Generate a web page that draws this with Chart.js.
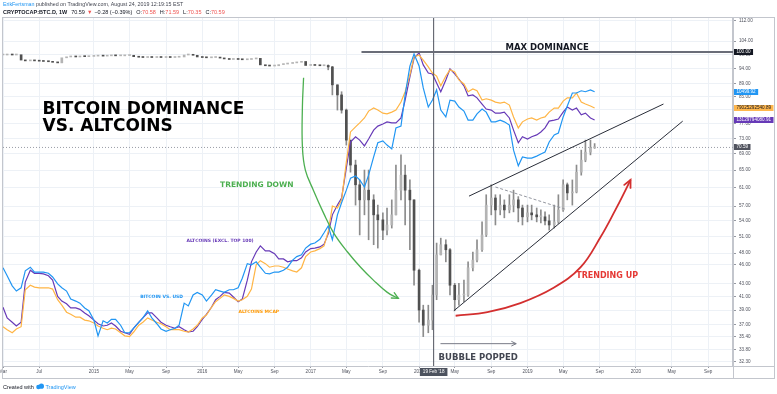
<!DOCTYPE html>
<html><head><meta charset="utf-8">
<script src="https://cdn.jsdelivr.net/npm/chart.js@4/dist/chart.umd.min.js"></script>
<style>html,body{margin:0;padding:0;background:#fff;overflow:hidden}</style>
</head><body>
<canvas id="c" width="777" height="394"></canvas>
<script>
// ---------- data (half-monthly samples) ----------
const dates = [
'2014-03-01','2014-03-15','2014-04-01','2014-04-15','2014-05-01','2014-05-15','2014-06-01','2014-06-15','2014-07-01','2014-07-15','2014-08-01','2014-08-15','2014-09-01','2014-09-15','2014-10-01','2014-10-15','2014-11-01','2014-11-15','2014-12-01','2014-12-15',
'2015-01-01','2015-01-15','2015-02-01','2015-02-15','2015-03-01','2015-03-15','2015-04-01','2015-04-15','2015-05-01','2015-05-15','2015-06-01','2015-06-15','2015-07-01','2015-07-15','2015-08-01','2015-08-15','2015-09-01','2015-09-15','2015-10-01','2015-10-15','2015-11-01','2015-11-15','2015-12-01','2015-12-15',
'2016-01-01','2016-01-15','2016-02-01','2016-02-15','2016-03-01','2016-03-15','2016-04-01','2016-04-15','2016-05-01','2016-05-15','2016-06-01','2016-06-15','2016-07-01','2016-07-15','2016-08-01','2016-08-15','2016-09-01','2016-09-15','2016-10-01','2016-10-15','2016-11-01','2016-11-15','2016-12-01','2016-12-15',
'2017-01-01','2017-01-15','2017-02-01','2017-02-15','2017-03-01','2017-03-15','2017-04-01','2017-04-15','2017-05-01','2017-05-15','2017-06-01','2017-06-15','2017-07-01','2017-07-15','2017-08-01','2017-08-15','2017-09-01','2017-09-15','2017-10-01','2017-10-15','2017-11-01','2017-11-15','2017-12-01','2017-12-15',
'2018-01-01','2018-01-15','2018-02-01','2018-02-15','2018-03-01','2018-03-15','2018-04-01','2018-04-15','2018-05-01','2018-05-15','2018-06-01','2018-06-15','2018-07-01','2018-07-15','2018-08-01','2018-08-15','2018-09-01','2018-09-15','2018-10-01','2018-10-15','2018-11-01','2018-11-15','2018-12-01','2018-12-15',
'2019-01-01','2019-01-15','2019-02-01','2019-02-15','2019-03-01','2019-03-15','2019-04-01','2019-04-15','2019-05-01','2019-05-15','2019-06-01','2019-06-15','2019-07-01','2019-07-15','2019-08-01','2019-08-15'
];
// Bitcoin dominance (CRYPTOCAP:BTC.D) closes
const domClose = [
98.9,99.0,98.9,99.0,97.1,96.8,96.9,96.8,96.7,96.6,
96.5,96.3,96.1,97.9,98.2,98.3,98.2,98.4,98.3,98.4,
98.5,98.6,98.5,98.6,98.7,98.6,98.6,98.7,98.8,98.3,
98.1,98.0,98.1,98.0,98.1,98.0,98.1,98.0,98.1,98.2,
98.9,99.0,98.8,98.2,98.0,97.9,98.0,98.1,97.8,97.5,
97.3,97.4,97.3,97.2,97.3,97.5,97.7,95.4,95.1,95.0,
95.1,95.5,95.7,95.9,96.1,96.3,96.6,95.2,95.3,95.2,
95.1,95.2,94.7,88.7,85.5,80.9,72.5,66.2,61.6,58.3,
60.4,58.3,55.2,54.2,52.2,53.2,55.2,60.4,63.8,60.4,
58.3,45.1,39.0,36.9,37.6,41.2,47.7,49.5,48.6,42.7,
40.5,41.2,41.2,45.5,46.8,48.6,51.3,57.2,58.7,56.2,
57.2,56.2,57.2,58.3,56.6,54.8,55.6,55.2,54.8,54.8,
54.0,53.2,53.8,56.2,61.6,59.8,60.0,64.5,67.4,69.4,
70.5,70.59];
// highs / lows from the 2017 break-down onwards (from dates[wickFrom])
const wickFrom = '2017-03-01';
const domHigh = [
95.4,94.9,88.7,86.5,81.2,72.5,67.4,62.7,
65.0,65.0,59.4,57.2,55.6,56.6,58.3,66.2,68.7,66.2,
62.7,58.3,45.3,39.7,39.7,42.7,49.8,50.7,50.4,48.8,
43.0,43.0,43.5,46.5,48.2,50.4,53.8,59.4,61.6,59.4,
59.4,58.3,59.4,60.4,59.0,57.2,57.2,57.2,56.6,56.2,
55.8,55.2,57.2,59.4,62.7,62.0,62.7,66.2,69.9,72.5,
72.5,71.59];
const domLow = [
93.7,85.5,80.9,80.0,71.2,64.5,57.2,51.3,
55.2,50.4,49.5,48.9,50.4,51.3,52.6,55.2,58.3,53.2,
48.6,42.7,37.3,35.4,35.9,36.3,40.5,47.7,46.5,41.2,
38.9,39.7,40.2,41.0,45.0,46.5,48.3,51.0,55.2,53.2,
55.2,54.6,55.6,55.8,53.8,53.2,53.8,54.2,53.8,53.6,
53.2,52.2,52.6,53.5,55.9,58.3,57.2,59.8,63.8,67.0,
68.7,70.35];
// comparison overlays (shown on the same price scale)
const btcUsd = [
45.5,44.2,42.6,41.8,42.3,45.0,45.6,44.8,44.8,44.8,
44.6,44.0,42.9,42.3,41.8,40.6,40.3,40.0,39.3,38.9,
37.6,35.5,37.5,37.2,37.7,37.7,36.9,35.9,35.9,36.5,
37.3,37.9,38.9,37.9,37.1,36.4,36.1,36.3,36.5,36.9,
40.0,39.6,41.2,41.6,41.2,40.3,41.2,42.0,41.8,41.6,
42.0,42.0,42.3,43.8,46.2,46.0,46.5,45.6,44.6,44.5,
44.8,44.8,45.1,45.6,46.8,47.4,47.7,48.9,49.6,49.8,
50.5,51.7,53.0,50.4,55.2,57.7,60.4,63.1,63.6,62.7,
61.1,63.8,68.2,71.8,72.3,71.2,70.2,75.8,76.3,85.5,
95.0,99.3,95.0,87.7,81.8,83.9,87.1,80.9,78.9,83.9,
83.6,81.8,80.6,78.0,78.0,79.8,81.2,80.3,77.5,77.5,
78.0,77.5,76.6,69.9,66.0,68.2,67.9,67.9,68.4,68.9,
69.4,72.0,73.9,74.4,78.9,82.1,86.1,86.1,86.8,86.5,
87.1,86.5];
const altMcap = [
36.7,36.3,35.9,36.4,36.7,42.0,42.7,42.4,42.3,42.3,
42.3,42.1,40.5,39.7,38.7,38.4,38.0,38.0,37.6,37.5,
37.2,36.8,36.5,36.3,36.5,36.4,35.9,35.5,35.4,36.0,
36.9,37.3,37.9,37.6,37.3,37.1,36.7,36.3,36.3,36.3,
36.1,36.0,36.4,36.9,37.9,38.3,39.4,40.2,40.7,41.2,
41.0,40.7,40.3,40.5,41.0,42.1,46.0,46.7,46.2,45.6,
45.8,45.8,45.6,45.3,45.0,44.8,45.5,47.4,48.2,48.4,
48.8,49.3,51.9,57.0,56.6,58.3,66.9,74.7,76.1,77.2,
78.6,80.6,81.5,80.9,80.0,79.8,80.3,80.9,83.3,86.5,
92.0,98.2,98.9,97.1,94.7,92.6,91.6,88.4,91.6,93.7,
93.0,90.3,89.0,86.5,87.4,86.8,83.9,84.3,83.9,83.3,
83.0,83.3,82.4,78.9,75.8,77.5,78.3,78.6,78.0,78.6,
78.9,80.3,81.5,81.5,83.6,84.6,84.6,86.1,83.3,82.7,
82.1,81.5];
const altExcl = [
39.4,37.9,37.3,36.8,37.3,43.2,45.1,44.6,44.6,44.5,
44.2,43.5,41.0,40.3,39.9,39.3,39.3,39.1,38.6,38.2,
37.6,37.1,36.8,36.9,37.2,36.8,36.1,35.9,35.7,36.5,
37.3,37.9,38.6,38.6,37.9,37.3,36.9,36.7,36.5,36.7,
36.3,36.0,36.1,36.7,37.7,38.4,39.4,40.5,41.0,41.6,
41.5,40.9,40.2,40.6,43.5,46.5,48.2,49.3,48.4,48.4,
47.9,47.0,47.0,46.5,46.7,46.7,47.2,48.2,48.8,48.9,
49.1,49.6,51.5,55.2,57.2,58.7,65.5,72.0,73.4,72.5,
71.0,72.8,75.2,76.3,76.9,77.5,77.2,77.2,78.6,83.9,
91.3,97.8,99.7,95.4,92.6,92.3,89.3,86.5,90.3,94.0,
92.3,90.6,88.4,85.2,85.5,84.6,82.7,81.2,80.9,80.0,
80.0,80.3,78.6,75.2,71.8,73.4,72.8,73.4,73.9,74.7,
75.8,77.7,78.0,78.3,80.3,81.8,80.9,81.5,79.5,80.0,
78.6,78.0];
const lastValueText = ['10499.92','79025292540.89','13129794080.91','70.59'];
const maxDominance = 100;
const yTicks = [112,104,99,94,89,85,81,77,73,69,65,61,57,54,51,48,46,43,41,39,37,35.4,33.8,32.3];
const xTickDates = ['2014-03-01','2014-07-01','2015-01-01','2015-05-01','2015-09-01','2016-01-01','2016-05-01','2016-09-01','2017-01-01','2017-05-01','2017-09-01','2018-01-01','2018-05-01','2018-09-01','2019-01-01','2019-05-01','2019-09-01','2020-01-01','2020-05-01','2020-09-01'];
const xTickLabels = ['Mar','Jul','2015','May','Sep','2016','May','Sep','2017','May','Sep','2018','May','Sep','2019','May','Sep','2020','May','Sep'];
// drawings (date, value)
const crossDate = '2018-02-19';
const maxDomFrom = '2017-06-21';
const upperTrend = [['2018-06-18',59.1],['2020-04-03',82.7]];
const lowerTrend = [['2018-04-28',38.9],['2020-06-07',77.7]];
const dashedTrend = [['2018-09-15',61.1],['2019-05-06',56.4]];
const greenArrow = [['2016-12-08',91.0],['2016-12-04',81.8],['2016-12-04',70.7],['2016-12-14',65.0],['2017-01-10',60.4],['2017-02-13',55.6],['2017-03-19',51.7],['2017-05-05',48.2],['2017-06-18',45.6],['2017-07-31',43.5],['2017-09-16',41.6],['2017-10-23',40.7]];
const redArrow = [['2018-05-04',38.2],['2018-08-19',38.7],['2018-12-08',40.0],['2019-03-30',42.3],['2019-06-29',45.6],['2019-09-04',50.9],['2019-10-24',56.2],['2019-11-27',60.4],['2019-12-14',62.7]];
const bubbleArrow = [['2018-03-14',34.5],['2018-11-24',34.5]];

// ---------- helpers ----------
function yf(s){const [y,m,d]=s.split('-').map(Number);const a=Date.UTC(y,0,1),b=Date.UTC(y+1,0,1);return y+(Date.UTC(y,m-1,d)-a)/(b-a);}
const T = dates.map(yf);
const X_MIN = yf('2014-03-01'), X_MAX = X_MIN + 6.734;
const Y_MIN = 31.8, Y_MAX = 113.2;
const wk = dates.indexOf(wickFrom);
const UP='#b4b4b4', DN='#505050';
const bodyCol = domClose.map((c,i)=> (i>0 && c<domClose[i-1]) ? DN : UP);
const pts = arr => arr.map(([d,v])=>({x:yf(d),y:v}));
const BLUE='#2196f3', ORANGE='#ffb545', PURPLE='#673ab7';

const notes = [
 {text:'BITCOIN DOMINANCE', d:'2014-07-12', v:79.8, font:'bold 17px "DejaVu Sans"', color:'#000', align:'left'},
 {text:'VS. ALTCOINS', d:'2014-07-12', v:75.0, font:'bold 17px "DejaVu Sans"', color:'#000', align:'left'},
 {text:'TRENDING DOWN', d:'2016-07-03', v:61.1, font:'bold 7.5px "DejaVu Sans"', color:'#4caf50', align:'center'},
 {text:'TRENDING UP', d:'2019-09-26', v:43.8, font:'bold 8px "DejaVu Sans"', color:'#e53935', align:'center'},
 {text:'MAX DOMINANCE', d:'2019-03-08', v:100.6, font:'bold 8.5px "DejaVu Sans"', color:'#131722', align:'center'},
 {text:'ALTCOINS (EXCL. TOP 100)', d:'2016-03-01', v:50.0, font:'bold 4.5px "DejaVu Sans"', color:PURPLE, align:'center'},
 {text:'BITCOIN VS. USD', d:'2015-08-17', v:40.7, font:'bold 4.5px "DejaVu Sans"', color:BLUE, align:'center'},
 {text:'ALTCOINS MCAP', d:'2016-07-10', v:38.6, font:'bold 4.5px "DejaVu Sans"', color:'#ff9800', align:'center'},
 {text:'BUBBLE POPPED', d:'2018-07-19', v:32.5, font:'bold 8.5px "DejaVu Sans"', color:'#434651', align:'center'}
];

const lineDs = (data,color,w,extra={}) => Object.assign({type:'line',data,borderColor:color,borderWidth:w,pointRadius:0,fill:false,tension:0,order:4},extra);

const datasets = [
 {type:'bar', data:T.slice(wk).map((t,k)=>({x:t,y:[domLow[k],domHigh[k]]})), backgroundColor:'#8c8c8c', barThickness:1, grouped:false, order:11},
 {type:'bar', data:T.map((t,i)=>({x:t,y:[i?domClose[i-1]:domClose[i],domClose[i]]})), backgroundColor:bodyCol, barThickness:2, minBarLength:1, grouped:false, order:10},
 lineDs(T.map((t,i)=>({x:t,y:btcUsd[i]})),BLUE,1.2),
 lineDs(T.map((t,i)=>({x:t,y:altMcap[i]})),ORANGE,1.2),
 lineDs(T.map((t,i)=>({x:t,y:altExcl[i]})),PURPLE,1.2),
 lineDs([{x:X_MIN,y:70.59},{x:X_MAX,y:70.59}],'#9a9da6',1,{borderDash:[1,2],order:12}),
 lineDs([{x:yf(crossDate),y:Y_MIN},{x:yf(crossDate),y:Y_MAX}],'#50535e',1,{order:2}),
 lineDs([{x:yf(maxDomFrom),y:maxDominance},{x:X_MAX,y:maxDominance}],'#6a6d78',2,{order:1}),
 lineDs(pts(upperTrend),'#2a2e39',1,{order:1}),
 lineDs(pts(lowerTrend),'#2a2e39',1,{order:1}),
 lineDs(pts(dashedTrend),'#9598a1',1,{order:1,borderDash:[3,2]}),
 lineDs(pts(greenArrow),'#4caf50',1.3,{order:1,tension:0.4,arrowHead:7}),
 lineDs(pts(redArrow),'#d32f2f',1.8,{order:1,tension:0.4,arrowHead:8}),
 lineDs(pts(bubbleArrow),'#787b86',1,{order:1,arrowHead:5})
];

const deco = {
 id:'deco',
 beforeDraw(c){const x=c.ctx;x.save();x.fillStyle='#fff';x.fillRect(0,0,c.width,c.height);x.restore();},
 afterDatasetsDraw(c){
  const x=c.ctx, xs=c.scales.x, ys=c.scales.y;
  c.data.datasets.forEach((ds,i)=>{
   if(!ds.arrowHead) return;
   const m=c.getDatasetMeta(i).data, p=m[m.length-1], q=m[m.length-2];
   const fx=(p.cp1x!==undefined&&ds.tension)?p.cp1x:q.x, fy=(p.cp1y!==undefined&&ds.tension)?p.cp1y:q.y;
   const a=Math.atan2(p.y-fy,p.x-fx), L=ds.arrowHead;
   x.save();x.strokeStyle=ds.borderColor;x.lineWidth=ds.borderWidth;x.lineCap='round';x.beginPath();
   x.moveTo(p.x-L*Math.cos(a-0.45),p.y-L*Math.sin(a-0.45));x.lineTo(p.x,p.y);
   x.lineTo(p.x-L*Math.cos(a+0.45),p.y-L*Math.sin(a+0.45));x.stroke();x.restore();
  });
  notes.forEach(n=>{x.save();x.font=n.font;x.fillStyle=n.color;x.textAlign=n.align;x.textBaseline='alphabetic';
   x.fillText(n.text,xs.getPixelForValue(yf(n.d)),ys.getPixelForValue(n.v));x.restore();});
 },
 afterDraw(c){
  const x=c.ctx, xs=c.scales.x, ys=c.scales.y, A=c.chartArea;
  x.save();
  x.strokeStyle='#c3c6cd';x.lineWidth=1;
  x.strokeRect(2.5,17.5,772,361);
  x.beginPath();x.moveTo(A.right,366.5);x.lineTo(774.5,366.5);x.moveTo(A.right+0.5,366);x.lineTo(A.right+0.5,378.5);x.stroke();
  x.textBaseline='middle';x.textAlign='left';
  x.font='5.3px "Liberation Sans"';
  x.fillStyle='#2196f3';x.fillText('ErikFertsman',3,5);
  let w=x.measureText('ErikFertsman ').width;
  x.fillStyle='#434651';x.fillText('published on TradingView.com, August 24, 2019 12:19:15 EST',3+w,5);
  let px=3;
  const F='5.5px "Liberation Sans"';
  const seg=(t,col,f,gap)=>{x.font=f||F;x.fillStyle=col;x.fillText(t,px,12);px+=x.measureText(t).width+(gap||0);};
  seg('CRYPTOCAP:BTC.D, 1W','#131722','bold 5.5px "Liberation Sans"',4);
  seg('70.59','#131722',F,2);seg('▼','#ef5350',F,2);seg('−0.28 (−0.39%)','#131722',F,4);
  seg('O:','#131722');seg('70.58','#ef5350',F,4);seg('H:','#131722');seg('71.59','#ef5350',F,4);
  seg('L:','#131722');seg('70.35','#ef5350',F,4);seg('C:','#131722');seg('70.59','#ef5350');
  x.font='5.5px "Liberation Sans"';x.fillStyle='#131722';x.fillText('Created with',3,387);
  let fw=3+x.measureText('Created with ').width;
  x.fillStyle='#2196f3';x.beginPath();x.arc(fw+3,387,2.2,0,Math.PI*2);x.arc(fw+6,386.2,2.6,0,Math.PI*2);x.fill();
  x.fillText('TradingView',fw+10,387);
  const tags=[[maxDominance,'100.00','#131722','#fff'],[btcUsd[btcUsd.length-1],lastValueText[0],BLUE,'#fff'],
   [altMcap[altMcap.length-1],lastValueText[1],'#ffb74d','#131722'],[altExcl[altExcl.length-1],lastValueText[2],PURPLE,'#fff'],
   [domClose[domClose.length-1],lastValueText[3],'#50535e','#fff']];
  x.font='4.6px "Liberation Sans"';
  tags.forEach(([v,t,bg,fg])=>{const y=ys.getPixelForValue(v);const tw=x.measureText(t).width;
   x.fillStyle=bg;x.fillRect(A.right+1,Math.round(y)-3,tw+5,6);x.fillStyle=fg;x.fillText(t,A.right+3.5,Math.round(y));});
  const cx=xs.getPixelForValue(yf(crossDate));
  const lab="19 Feb '18";const lw=x.measureText(lab).width+6;
  x.fillStyle='#4c525e';x.fillRect(cx-lw/2,368,lw,8);x.fillStyle='#fff';x.textAlign='center';x.fillText(lab,cx,372);
  x.restore();
 }
};

Chart.defaults.font.family='"Liberation Sans", Arial, sans-serif';
new Chart(document.getElementById('c'),{
 type:'line',
 data:{datasets},
 options:{
  responsive:false, animation:false, events:[],
  layout:{padding:{left:3,top:18,right:0,bottom:16}},
  plugins:{legend:{display:false},tooltip:{enabled:false}},
  scales:{
   x:{type:'linear',min:X_MIN,max:X_MAX,offset:false,
     afterBuildTicks:s=>{s.ticks=xTickDates.map(d=>({value:yf(d)}));},
     afterFit:s=>{s.height=12;s.paddingLeft=0;s.paddingRight=0;},
     ticks:{autoSkip:false,maxRotation:0,padding:1,color:'#50535e',font:{size:4.6},callback:(v,i)=>xTickLabels[i]},
     grid:{offset:false,color:'#edf1f6',tickColor:'#9598a1',tickLength:2,drawTicks:true},
     border:{display:true,color:'#c3c6cd',width:1}},
   y:{type:'logarithmic',position:'right',min:Y_MIN,max:Y_MAX,
     afterBuildTicks:s=>{s.ticks=yTicks.map(v=>({value:v}));},
     afterFit:s=>{s.width=44;s.paddingTop=0;s.paddingBottom=0;},
     ticks:{autoSkip:false,padding:3,color:'#50535e',font:{size:4.6},callback:v=>Number(v).toFixed(2)},
     grid:{color:'#edf1f6',tickColor:'#9598a1',tickLength:3,drawTicks:true},
     border:{display:true,color:'#c3c6cd',width:2}}
  }
 },
 plugins:[deco]
});
</script>
</body></html>
